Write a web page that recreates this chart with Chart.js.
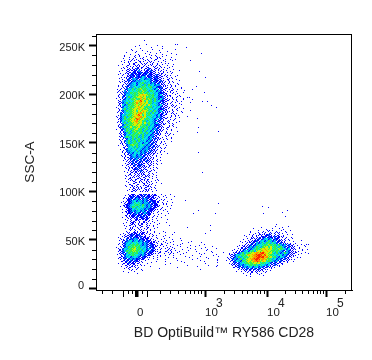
<!DOCTYPE html>
<html>
<head>
<meta charset="utf-8">
<script src="https://cdn.jsdelivr.net/npm/chart.js@4"></script>
<style>
html, body { margin: 0; padding: 0; background: #fff; }
#wrap { width: 372px; height: 360px; }
</style>
</head>
<body>
<div id="wrap"><canvas id="plot" width="372" height="360"></canvas></div>
<script>
// tick values. x is the biexponential display channel, 0-256 across the plot, y is in thousands
const xMajorTicks = [41, 109, 171, 230];
const xMajorLabels = ['0', '10', '10', '10'];
const xExponents = ['', '3', '4', '5'];
const xLongTicks = [27, 39, 40, 51];
const xMinorTicks = [6, 16, 32, 36, 46, 64, 74, 82, 89, 94, 98, 102, 105, 128, 138, 146, 151, 156, 161, 164, 168, 188.5, 199, 206, 212, 217, 221, 224, 227, 249];
const yMajorTicks = [0, 50, 100, 150, 200, 250];
const yMajorLabels = ['', '50K', '100K', '150K', '200K', '250K'];
const yMinorTicks = [10, 20, 30, 40, 60, 70, 80, 90, 110, 120, 130, 140, 160, 170, 180, 190, 210, 220, 230, 240, 260];

// density, one string per row, two channels per cell
// . empty, b d p q single events, x X blue diagonal pair
// B l c g y o r solid cell, L C G Y O R cell mixed with the next colour down
const upperTop = 255.955;
const upperLeft = 16;
const upperRows = [
"................b",
"",
".............d...b....d........p",
"...........p.......d.....b",
".........d....b.....q....b.....d",
"..........b.q..b.d.....p...d",
".......b...p....d..b..q.b....d",
"......q..b.d.x....pd.d...b.q....b",
"......b.d..x.p.d.b.q..xd.b...d",
".....p..d.X.q.bx.d.p.dX.b.d..q.d",
"....d.b.qX.b.xqdp.xd.b.q.pd...b",
"......b.x.dXb.x.qX.bX.d.p.d.q",
"...q.b.dX.pxdx.bX.qxb.Xd.b.d..p",
".....d.x.bX.xXdX.xq.pXd.x.q.d.b",
"....p.bdXqxXLxp.XxLx.XbX.d.p..d",
"...d.b.xXpxBxlX.xBxLxX.bXd.b.q...p",
"....q.dxXxLBXBLxBLxBxX.xdX.p.db",
"...b.X.dxLBXLBxBLxLBxXLxX.Xd.q..d",
"....d.qXxBLxLBLclXBLxLBxXb.x.d.p",
"...p.q.xLxlCLxCcLlCLxBLxXp.dX.b.q",
"...d.qxXLxLLClCcGcCLxLBxLXd.x.q..p",
"....b.xdxLCcLCGgCCcLCLxLxxb.X.p.d",
"...q.X.xLlCcLcGCgCgCcLClXxxd.x.d.b",
"...b.xpLxlCGcCGgGcGgCcLBLXpd.X.p..d",
"..d.X.xLcCgCGgYGgGcGCLcXLxXbd.x.d.p",
"...X.qlXCcGcGgGYgGCgGcLCLxpd.Xb.q...b",
"..p.xpLlCgGgGYgYGgGcGCcLBLxq.bX.d..p",
"...X.xLcCcGgGYyOyYgGgCcLcXxxdq.p.d",
"...x.LxCgCGgYyOYyGgGgcCLBlxp.bq.X.b...d",
"..b.qxLcCGgYGgOYOgYgCgCLcLxXd.x.q..p",
"...xqlCcGcGYyORyGyGgCgCcLBxXb.q.x.d",
"...xXLCgCGgYoYOyYyGgCcCLxLxd.X.p.d.....b",
"...XqcLCgGgYyYOYyGyGcGCLcXxX.dx.q.p",
"..q.xLcCGgGYyOYyGgGgCcCcLxxXd.bX.d",
"...x.CgCGgYyYOyYgYGcGCcLBLxqb.q.X..p",
"...XpLCgGgYyGyYOyYGgCgCLcXxxd.x.p.d",
"..p.LXCcGgYyYOoYyGgCgCcLxLpX.dx.q..b",
"...qLcCGgGYyORyGyGgGcCLcBxXb.d.x.q",
"..x.LCgCGgYOyOoYyGcGCcLCLxqd.X.p.d...p",
"...XLCgGgYyYRoYyGgGcCLcXLxpb.q.X",
"...qLcCGgYyOoYyGgCGcCLxLxX.dx.p..d",
"..p.xCgCGgYyOYyGyGgcCLcXxxd.x.q.b",
"...X.LCgGgYyYyYGgCgCcLBLxpb.d.X",
"...xLCgCGyGgYyGgGgCcCLxLxx.dX.p.q",
"..q.xLCgGgGYyGgCGgCcLCLxXd.x.d",
"....XxCgGCgYgGgCgCcLCXLxxb.q.p..d",
"...dxpLCgCGgGYgGCgCcLxLXq.dx.q",
"....xpLcCGgGgGCgCCcLlxXxb.d.X.p",
"...pXxCgGCgGgCCgCcLCLxxq.q.b.d",
"...d.XpLcCgCGgCGcCLCXLxxbd.x.p",
"....x.LCgCGgCgCCcLCLxxX.d.q..d",
"....XqxCgCGgGCcLCcLxLxb.X.d",
"...q.x.LCgYGgCcGCLCLxXxd.p.q",
".....dXpCcGCgCcCLCLxLxxbq.d",
"....q.xLcCcGCcCLlCLxxXd.p.b",
".....X.LlCcCGCLCLCXLxxb.X.q",
".....bXpLCLcCcLCLxLxxXd.b..d",
"....d.xpxLCcLCLxLxxbX.q.p",
".....bXdqLlCLlCLxXqxd.b.q",
"......x.XLxLCxLxLxxbX.d",
".....p.XdxLxLxLXxLxxd.x.b",
"......d.xxLXxLxxqxbXd.q.d",
".....q.XbXxLxBLxq.xXd.p",
"......d.xdXxXLxxxbX.d.q",
".......bX.xBLXxdxq.bd.p",
"......q.bXdxXXLx.XdX.b",
".......p.XbXxdxxb.x.q.b",
"......d.Xx.XdxpXxdx.p.q",
".......b.qXqbxpdXbx.b.q",
"......p.Xx.dXbxqXdq.b.d",
".......q.bxX.dx.bXqd.p.b",
"........b.dXbp.xqxp.q.b.d",
"......d.pxq.Xb.dxqXp.d",
".......b.qxbXqx.dXbx.q",
"........d.Xxdxp.xqXd.p",
".......p.dXxb.qXdxb.q.b"
];

const midTop = 97.335;
const midLeft = 18;
const midRows = [
".....d.xXBxdXBXLxBdxBq.p.d..b",
".....q.XBLxLBXLxLBxBd.x.p.q...b",
"....p.xBLxLCLXLCLxBXbX.d.q..d",
"....d.XBLCcLCCLCLxLBBdX.p.d",
"...p.XdBLCGcGCLCCLxLBXb.x.q..b",
"....dXBLCcGgGCgCLCLxBBd.p.b.d",
"...b.xBLCgGCGcGCLCLxBXb.q.p",
"....q.XBLcCGcCCLCLBBxd.X.d..b",
".....dXBLCLCcLCLxLBxb.q.p.d",
"....b.xBLxLCLxLCLBXd.p.d...q",
".....dXdxBLxBLxLXBb.q.b..d",
"....q.xpXBxLxBLxBd.X.p.d",
".....d.bX.xBdXBxBb.q.b....d",
"......p.XdXbx.dXbX.q.p",
"....d.b.XBp.XdXbx.q.b.d...b",
".....q.dXbx.xXb.xd.d.p.....d",
"......b.qXpd.Xb.xq.p.d",
".....p.dxbq.xd.bX.q.b",
"......q.b.Xd.xp.d.b.q...d"
];

const lowerTop = 58.195;
const lowerLeft = 16;
const lowerRows = [
".....d.pXdXBXdxBbX.q.b.d..p....b",
"....b.XdXBLxBLXbx.p.x.q...d...b",
"...q.bXxXLxLBXLxBdX.b.q..p..d",
"....xd.LxLLClxLBXBbXd.p.d.b...q...b",
"...p.XxLCcLCcLCLxLBxdX.q.d.b..d...p....d",
"...d.xLCcCGcGCcLCLxBXbx.d.pd.b.....q..b.....p",
"...b.xLcCGgGgGCLCLxLBxd.Xb.q..p.d.b....q...d..b",
"..q.xpLCgGgYGgCcCLxLBXbd.p.d.bq...b..d...p....d...b",
"...xqLcCGgYyGgGCcLCxLxd.X.p.Xd.b...q...b.d..p..d....b",
"...XxLCgGgYYgGCGCLxLBxd.q.dX.x.p.d....b...q....b.d",
"...dxLxCgGgGgCCcLxLBxd.Xb.q.bXd.p..d.b.....d..q...b....p",
"..p.xpLcCGgGcCLCLxBXb.d.q.d.p.d...b.....q...p.....d.b",
"...dXxLCcLCcCLxLBxd.p.d.b...q.d.....p.d.....b..q.....b",
"...bXpLxLCLlBLxBb.q.p.d...d.....b.......q.p.....b...d",
"....dXxLxLxLBXd.p.....q...d.....p.d.........b.q.....p",
"...q.dXxLxBXdX.b.d.p.........q......b.........d.....p",
".....bdXxbXxd.x.q.........p..........d..........q...d",
"....p..XdXbx.q.....b............d.........p.........b",
"......b.x.q.X.d........p....................q",
".....d...p.q...b",
"........b...d"
];

const rightTop = 66.435;
const rightLeft = 120;
const rightRows = [
"..............................b",
"......................d......p...q..b",
"..................p......q..b..p.d",
".................q...b.d.pX.b.q.p.d..b",
".................b.d.x.bX.dx.XpX.q.b",
"..............q.p.X.qXxbxBLx.XdX.d.p..b",
"...............b.dx.xdXBLxLBXLxBpX.q.d",
".............d.p.XbxxLxLCcLCxLBxd.X.q.b",
"............q.d.xdxBLxCcLCgCLCxBxbX.p.d...p",
".............b.XpxLxCLCGCgGCGCLxLxxd.q.d",
"...........d.qXdxLxLCGcGgGYgGgCgCLCxLxX.d.p.q.b",
"..........p.dXxxLCLCgGCgYyGyGgGCgCLxLxxb.d..p",
".........q.bXxLxCLCGgGYyOyYyGgGYgGCLcXxx.p.q.d",
"........b.XdxLCcLGgCYyYOyOyYgGgGCLxCLxxd.q.b",
"......d.pXxLCgCGgYyOoORrOyYyGCgCLCgCLxxXb.d.p.q",
"......pXxLcCGgGYOyOoRrRORyYgGcCGcLCLxxxd.b",
".....d.XxLCgCGgGYyOoRrRrOoYyGgCLcCLxXxp.d.q",
"......xpLCLCgCGYyOoRrROoOYgGCcLCLxLxxd.q",
".....b.XxLcCLgGYyYOoRoYOyGgGCLCxLxqxb.d",
"......d.XLxLCcGgYgYyYyGgGcCLxLxXxq.p",
".......pXxxLCLCcGgGgGCGcCLcXxLxd.b",
"........dXxLxLCLCcLCcLCLxLxxbq.p",
"...........XdxxLxLxLxLxXxd.p",
"..........q.d.xbXxXdxxbx.q.b",
".............d.p.Xb.x.d.p",
"...............q.b...p.d",
".................b"
];

// single events away from the populations
const strayX = [81.5, 90.5, 105.5, 94.5, 103.5, 109.5, 100.5, 96.5, 108.5, 91.5, 87.5, 96.5, 106.5, 111.5, 115.5, 120.5, 94.5, 101.5, 102.5, 101.5, 122.5, 106.5, 102.5, 122.5, 166.5, 172.5, 186.5, 191.5, 167.5, 189.5, 210.5, 114.5, 97.5, 102.5, 119.5, 89.5, 114.5, 109.5, 91.5];
const strayY = [251.3, 248.2, 242.05, 234.8, 223.5, 217.3, 208.1, 205, 201.9, 196.7, 194.7, 194.7, 192.6, 192.6, 188.5, 186.4, 183.3, 175.1, 165.8, 160.7, 161.7, 119.5, 140.1, 87.6, 84.5, 83.4, 78.3, 80.3, 77.3, 74.2, 45.3, 64.9, 77.3, 80.3, 77.3, 90.6, 59.7, 56.7, 62.8];

const densityColors = { B: '#0000ff', l: '#0090ff', c: '#00e8e8', g: '#30f050', y: '#d8f000', o: '#ff9000', r: '#ff2000' };
const mixedCells = { L: ['l', 'B'], C: ['c', 'l'], G: ['g', 'c'], Y: ['y', 'g'], O: ['o', 'y'], R: ['r', 'o'] };
const rowStep = 2.06; // thousands per cell, two pixels on the y axis

// one pixel sub-positions inside a cell
function sub(x, y, col, row) {
    return { x: x + col + 0.5, y: y - rowStep * (row + 0.5) / 2 };
}

function addRows(rows, left, top, out) {
    rows.forEach(function (row, r) {
        for (let i = 0; i < row.length; i++) {
            const ch = row[i];
            const x = left + i * 2;
            const y = top - r * rowStep;
            if (ch === '.') continue;
            if (ch === 'b') out.dots.B.push(sub(x, y, 0, 0));
            else if (ch === 'd') out.dots.B.push(sub(x, y, 1, 1));
            else if (ch === 'p') out.dots.B.push(sub(x, y, 1, 0));
            else if (ch === 'q') out.dots.B.push(sub(x, y, 0, 1));
            else if (ch === 'x') out.dots.B.push(sub(x, y, 0, 0), sub(x, y, 1, 1));
            else if (ch === 'X') out.dots.B.push(sub(x, y, 1, 0), sub(x, y, 0, 1));
            else if (mixedCells[ch]) {
                const m = mixedCells[ch];
                out.dots[m[0]].push(sub(x, y, 0, 0), sub(x, y, 1, 1));
                out.dots[m[1]].push(sub(x, y, 1, 0), sub(x, y, 0, 1));
            } else out.solid[ch].push({ x: x + 1, y: y - rowStep / 2 });
        }
    });
}

const cells = { dots: {}, solid: {} };
Object.keys(densityColors).forEach(function (k) { cells.dots[k] = []; cells.solid[k] = []; });
addRows(upperRows, upperLeft, upperTop, cells);
addRows(midRows, midLeft, midTop, cells);
addRows(lowerRows, lowerLeft, lowerTop, cells);
addRows(rightRows, rightLeft, rightTop, cells);
strayX.forEach(function (x, i) { cells.dots.B.push({ x: x, y: strayY[i] }); });

const datasets = [];
Object.keys(densityColors).forEach(function (k) {
    datasets.push({ data: cells.solid[k], pointStyle: 'rect', pointRadius: Math.SQRT2, borderWidth: 0, backgroundColor: densityColors[k] });
    datasets.push({ data: cells.dots[k], pointStyle: 'rect', pointRadius: Math.SQRT1_2, borderWidth: 0, backgroundColor: densityColors[k] });
});

// minor ticks, frame and the raised decade exponents
const axisExtras = {
    id: 'axisExtras',
    afterDraw(chart) {
        const c = chart.ctx, a = chart.chartArea, xs = chart.scales.x, ys = chart.scales.y;
        c.save();
        c.strokeStyle = '#000';
        c.lineWidth = 1;
        c.beginPath();
        xMinorTicks.forEach(function (v) {
            const p = Math.round(xs.getPixelForValue(v)) + 0.5;
            c.moveTo(p, a.bottom);
            c.lineTo(p, a.bottom + 4);
        });
        xLongTicks.forEach(function (v) {
            const p = Math.round(xs.getPixelForValue(v)) + 0.5;
            c.moveTo(p, a.bottom);
            c.lineTo(p, a.bottom + 7);
        });
        yMinorTicks.forEach(function (v) {
            const p = Math.round(ys.getPixelForValue(v)) + 0.5;
            c.moveTo(a.left, p);
            c.lineTo(a.left - 4, p);
        });
        c.moveTo(a.left, a.top + 0.5);
        c.lineTo(a.right, a.top + 0.5);
        c.moveTo(a.right - 0.5, a.top);
        c.lineTo(a.right - 0.5, a.bottom);
        c.stroke();
        c.fillStyle = '#222';
        c.font = '12px "Liberation Sans"';
        c.textBaseline = 'alphabetic';
        c.textAlign = 'left';
        xExponents.forEach(function (e, i) {
            if (e) c.fillText(e, xs.getPixelForValue(xMajorTicks[i]) + 11, 307);
        });
        c.font = '11px "Liberation Sans"';
        c.textAlign = 'right';
        c.fillText('0', 84, 289);
        c.restore();
    }
};

new Chart(document.getElementById('plot'), {
    type: 'scatter',
    data: { datasets: datasets },
    plugins: [axisExtras],
    options: {
        responsive: false,
        animation: false,
        events: [],
        layout: { padding: { top: 34, right: 20, left: 0, bottom: 0 } },
        plugins: { legend: { display: false }, tooltip: { enabled: false } },
        scales: {
            x: {
                type: 'linear',
                min: 0,
                max: 256,
                afterFit: function (s) { s.height = 70; },
                afterBuildTicks: function (s) { s.ticks = xMajorTicks.map(v => ({ value: v })); },
                border: { color: '#000', width: 1 },
                grid: { drawOnChartArea: false, tickLength: 7, tickWidth: 2, tickColor: '#000' },
                ticks: {
                    autoSkip: false,
                    maxRotation: 0,
                    align: 'start',
                    padding: 9,
                    color: '#222',
                    font: { family: 'Liberation Sans', size: 11.5 },
                    callback: function (v, i) { return xMajorLabels[i]; }
                },
                title: {
                    display: true,
                    text: 'BD OptiBuild™ RY586 CD28',
                    color: '#222',
                    font: { family: 'Liberation Sans', size: 14 },
                    padding: { top: 0, bottom: 18 }
                }
            },
            y: {
                type: 'linear',
                min: -1.545,
                max: 262.135,
                afterFit: function (s) { s.width = 96; },
                afterBuildTicks: function (s) { s.ticks = yMajorTicks.map(v => ({ value: v })); },
                border: { color: '#000', width: 1 },
                grid: { drawOnChartArea: false, tickLength: 7, tickWidth: 2, tickColor: '#000' },
                ticks: {
                    autoSkip: false,
                    padding: 4,
                    labelOffset: 2,
                    color: '#222',
                    font: { family: 'Liberation Sans', size: 11 },
                    callback: function (v, i) { return yMajorLabels[i]; }
                },
                title: {
                    display: true,
                    text: 'SSC-A',
                    color: '#222',
                    font: { family: 'Liberation Sans', size: 13.5 },
                    padding: { top: 22, bottom: 0 }
                }
            }
        }
    }
});
</script>
</body>
</html>
